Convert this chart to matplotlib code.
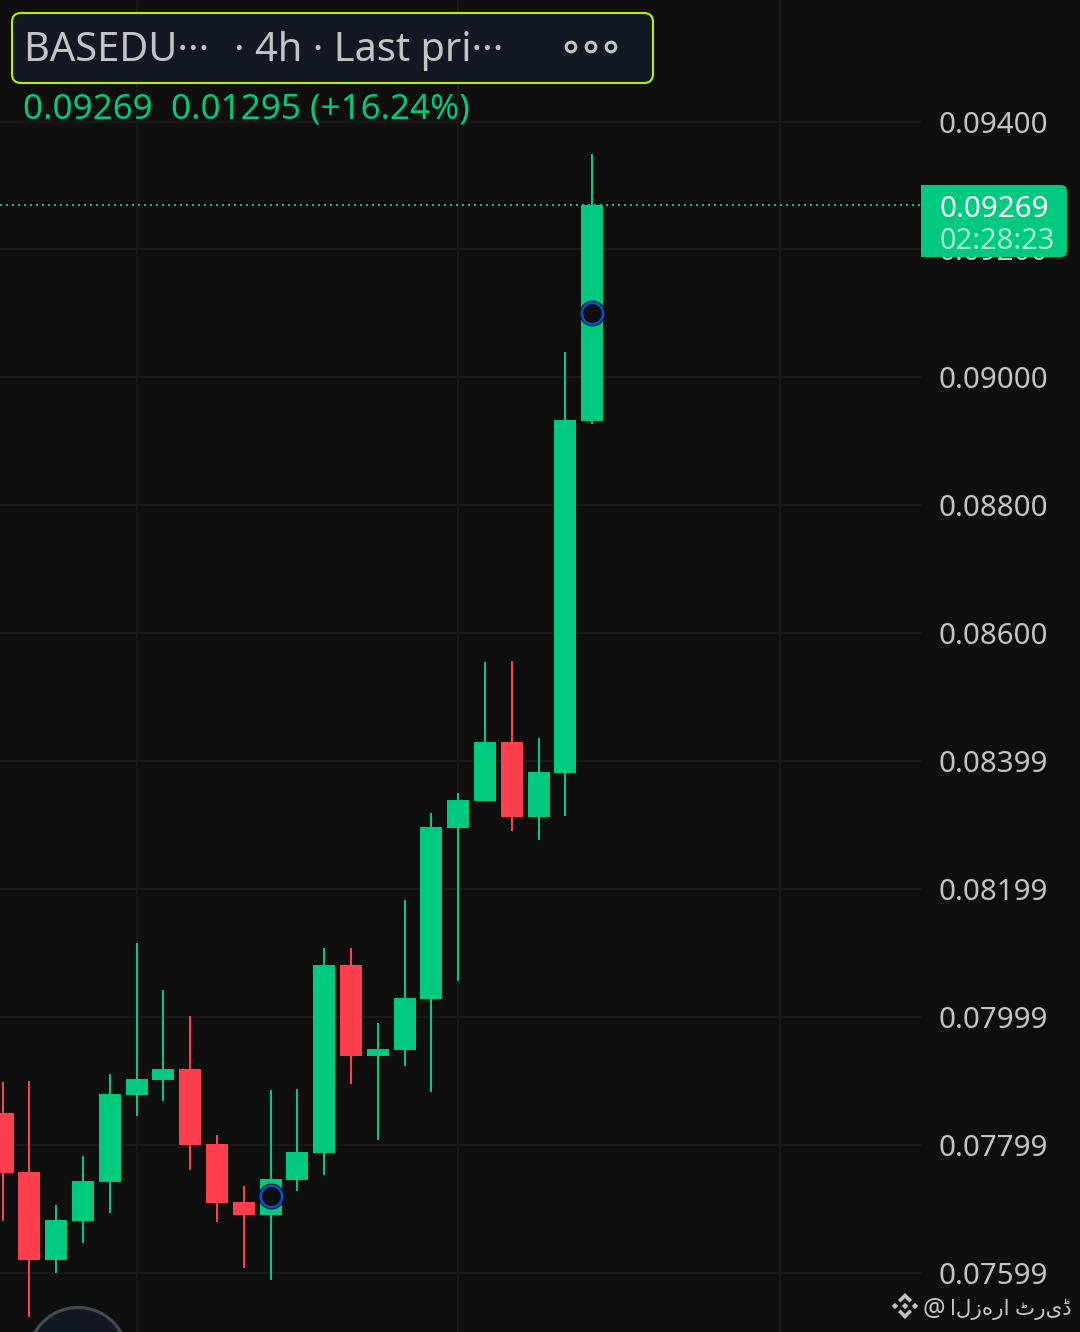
#!/usr/bin/python

import numpy as np
import matplotlib
matplotlib.use("Agg")
import matplotlib.pyplot as plt
from matplotlib.patches import Circle, FancyBboxPatch, Polygon, Rectangle

################################################################################
# candles, oldest first

opens = [0.078492, 0.077569, 0.076191, 0.076802, 0.077412, 0.078774, 0.079008, 0.079180,
	0.078007, 0.077099, 0.076896, 0.077443, 0.077866, 0.080808, 0.079384, 0.079478,
	0.080276, 0.082952, 0.083374, 0.084298, 0.083124, 0.083813, 0.089321]
closes = [0.077553, 0.076191, 0.076817, 0.077428, 0.078789, 0.079024, 0.079180, 0.077991,
	0.077083, 0.076896, 0.077459, 0.077882, 0.080808, 0.079384, 0.079493, 0.080291,
	0.082967, 0.083390, 0.084298, 0.083124, 0.083828, 0.089337, 0.092690]
highs = [0.078977, 0.078993, 0.077052, 0.077819, 0.079102, 0.081152, 0.080417, 0.080010,
	0.078148, 0.077349, 0.078852, 0.078867, 0.081074, 0.081074, 0.079900, 0.081825,
	0.083187, 0.083500, 0.085550, 0.085565, 0.084360, 0.090401, 0.093499]
lows = [0.076802, 0.075299, 0.075988, 0.076457, 0.076927, 0.078445, 0.078680, 0.077600,
	0.076786, 0.076066, 0.075878, 0.077271, 0.077522, 0.078946, 0.078069, 0.079227,
	0.078820, 0.080557, 0.083374, 0.082905, 0.082764, 0.083140, 0.089274]

tick_values = [0.09400, 0.09200, 0.09000, 0.08800, 0.08600, 0.08399, 0.08199, 0.07999, 0.07799, 0.07599]
time_grid = [5, 17, 29]

last_price = 0.09269
marker_index = [10, 22]
marker_price = [0.077193, 0.091011]

title_text = "BASEDU\u00b7\u00b7\u00b7\u200a  \u00b7 4h \u00b7 Last pri\u00b7\u00b7\u00b7"
legend_text = "0.09269  0.01295 (+16.24%)"
tag_price = "0.09269"
tag_time = "02:28:23"
# plain heh, heh goal is in none of the installed fonts
watermark = "\u0627\u0644\u0632\u0647\u0631\u0627 \u0679\u0631\u06cc\u0688"

################################################################################

bg = "#0f0f0f"
green = "#00c980"
red = "#ff3f4d"
grid = "#191919"
grey = "#c4c4c4"

plt.rcParams["font.family"] = ["Noto Sans", "DejaVu Sans"]

fig = plt.figure(figsize=(10.8, 13.32), dpi=100, facecolor=bg)

ax = fig.add_axes([0, 0, 921/1080, 1], facecolor=bg)
ax.set_xlim(-0.1, 34.272)
ax.set_ylim(0.07506, 0.095904)
for s in ax.spines.values():
	s.set_visible(False)

ax.set_xticks(time_grid)
ax.set_yticks(tick_values)
ax.set_yticklabels([f"{v:.5f}" for v in tick_values])
ax.yaxis.tick_right()
ax.tick_params(axis="x", length=0, labelbottom=False)
ax.tick_params(axis="y", length=0, pad=12.3, labelsize=21.2, labelcolor=grey)
ax.grid(True, color=grid, lw=1.44, zorder=0)
ax.set_axisbelow(True)

###############################################################################
# candles

x = np.arange(len(opens))
o = np.array(opens)
c = np.array(closes)
colors = [green if b >= a else red for a, b in zip(opens, closes)]

ax.axhline(last_price, color=green, lw=1.44, ls=(0, (1, 2)), zorder=1)
ax.vlines(x, lows, highs, colors=colors, lw=1.44, zorder=2)
ax.bar(x, np.abs(c - o), bottom=np.minimum(o, c), width=0.82, color=colors, lw=0, zorder=3)

ax.scatter(marker_index, marker_price, s=350, color="#111111", lw=0, zorder=4)
ax.scatter(marker_index, marker_price, s=235, facecolor=bg, edgecolor="#0a50d2", lw=1.8, zorder=5)

###############################################################################
# overlay in pixels

ui = fig.add_axes([0, 0, 1, 1])
ui.set_xlim(0, 1080)
ui.set_ylim(1332, 0)
ui.set_axis_off()
ui.patch.set_alpha(0)

ui.add_patch(FancyBboxPatch((12, 13), 641, 70, boxstyle="round,pad=0,rounding_size=9",
	facecolor="#141824", edgecolor="#b8f000", lw=1.5))
ui.text(24, 46, title_text, color=grey, size=28.6, ha="left", va="center_baseline")
ui.scatter([571, 591, 611], [47, 47, 47], s=48, facecolor="none", edgecolor=grey, lw=2.2)
ui.text(23, 105, legend_text, color=green, size=25.2, ha="left", va="center_baseline")

ui.add_patch(FancyBboxPatch((921, 185), 146, 72, boxstyle="round,pad=0,rounding_size=6",
	facecolor=green, edgecolor="none"))
ui.add_patch(Rectangle((921, 185), 20, 72, facecolor=green, edgecolor="none"))
ui.text(994, 206, tag_price, color="white", size=21.3, ha="center", va="center_baseline")
ui.text(997.5, 238, tag_time, color="#a8ecd4", size=20.9, ha="center", va="center_baseline")

# circle cut by the bottom edge
ui.add_patch(Circle((78, 1357), 49.5, facecolor="#141824", edgecolor="#484a52", lw=2.2))

# logo
lx, ly = 905, 1306
chevron = np.array([(0, -13), (7, -6), (4.5, -3.5), (0, -8), (-4.5, -3.5), (-7, -6)])
ui.add_patch(Polygon(chevron + (lx, ly), facecolor=grey, edgecolor="none"))
ui.add_patch(Polygon(chevron * (1, -1) + (lx, ly), facecolor=grey, edgecolor="none"))
diamond = np.array([(0, -3.2), (3.2, 0), (0, 3.2), (-3.2, 0)])
for dx in [-10, 0, 10]:
	ui.add_patch(Polygon(diamond + (lx + dx, ly), facecolor=grey, edgecolor="none"))

ui.text(923, 1306, "@", color=grey, size=18, ha="left", va="center_baseline")
ui.text(1072, 1307, watermark, color=grey, size=15.4, ha="right", va="center_baseline")

fig.savefig("out.png", dpi=100, facecolor=bg)
